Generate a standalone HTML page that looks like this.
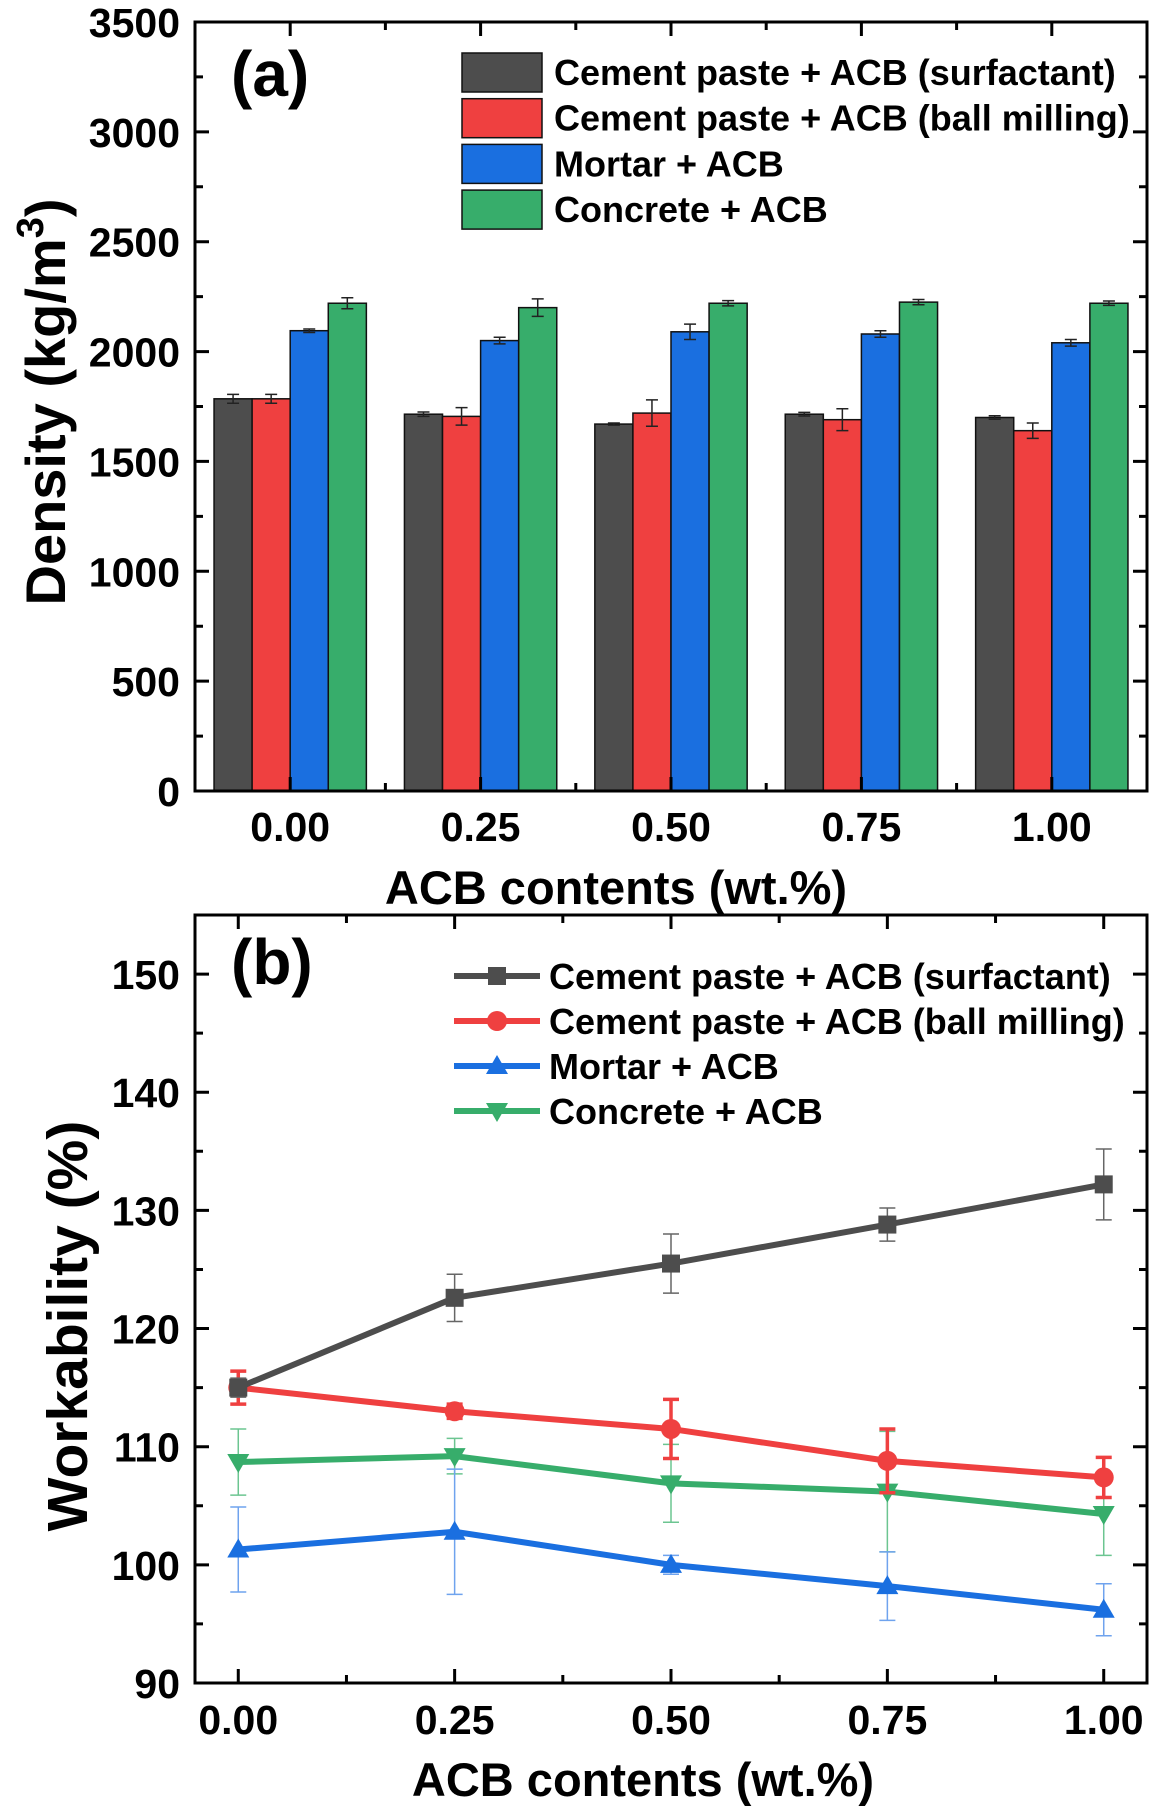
<!DOCTYPE html>
<html><head><meta charset="utf-8">
<style>
html,body{margin:0;padding:0;background:#fff;}
svg{display:block;font-family:"Liberation Sans",sans-serif;font-weight:bold;}
</style></head>
<body>
<svg id="fig" width="1155" height="1813" viewBox="0 0 1155 1813" xmlns="http://www.w3.org/2000/svg"></svg>
<script>
// ---------- Panel (a) data ----------
const catsA = ["0.00","0.25","0.50","0.75","1.00"];
const seriesNames = ["Cement paste + ACB (surfactant)","Cement paste + ACB (ball milling)","Mortar + ACB","Concrete + ACB"];
const densSurf = [1785,1715,1670,1715,1700];
const densBall = [1785,1705,1720,1690,1640];
const densMortar = [2095,2050,2090,2080,2040];
const densConcrete = [2220,2200,2220,2225,2220];
const errSurf = [20,10,5,8,8];
const errBall = [20,40,60,50,35];
const errMortar = [8,15,35,15,15];
const errConcrete = [25,40,12,12,10];
const yTicksA = [0,500,1000,1500,2000,2500,3000,3500];
// ---------- Panel (b) data ----------
const xValsB = [0,0.25,0.5,0.75,1.0];
const xTicksB = ["0.00","0.25","0.50","0.75","1.00"];
const workSurf = [115,122.6,125.5,128.8,132.2];
const workBall = [115,113,111.5,108.8,107.4];
const workMortar = [101.3,102.8,100,98.2,96.2];
const workConcrete = [108.7,109.2,106.9,106.2,104.3];
const wErrSurf = [0.8,2,2.5,1.4,3];
const wErrBall = [1.4,0.6,2.5,2.7,1.7];
const wErrMortar = [3.6,5.3,0.8,2.9,2.2];
const wErrConcrete = [2.8,1.5,3.3,5.1,3.5];
const yTicksB = [90,100,110,120,130,140,150];

const colors = ["#4d4d4d","#ef4040","#1a6fe0","#37ad6b"];
const NS="http://www.w3.org/2000/svg";
const svg=document.getElementById('fig');
function el(tag,attrs,parent){const e=document.createElementNS(NS,tag);for(const k in attrs)e.setAttribute(k,attrs[k]);(parent||svg).appendChild(e);return e;}
function txt(s,attrs,parent){const t=el('text',attrs,parent);t.textContent=s;return t;}
const TICK=41, LEG=36, TITLE=47;

// ===== Panel A =====
const A={l:195,r:1147,t:22,b:791,ymin:0,ymax:3500};
const yA=v=>A.b-(v-A.ymin)/(A.ymax-A.ymin)*(A.b-A.t);
const stepA=(A.r-A.l)/catsA.length;
const xA=i=>A.l+stepA*(i+0.5);
const gA=el('g',{});


const densAll=[densSurf,densBall,densMortar,densConcrete];
const errAll=[errSurf,errBall,errMortar,errConcrete];
const bw=stepA*0.8/4;
for(let s=0;s<4;s++){
  for(let i=0;i<catsA.length;i++){
    const x0=xA(i)-2*bw+s*bw, v=densAll[s][i];
    const r=el('rect',{x:x0,y:yA(v),width:bw,height:yA(0)-yA(v),fill:colors[s],stroke:'#111','stroke-width':1.5},gA);
    
    
    const cx=x0+bw/2,e=errAll[s][i];
    const eb=el('path',{d:`M${cx},${yA(v+e)}V${yA(v-e)}M${cx-6},${yA(v+e)}H${cx+6}M${cx-6},${yA(v-e)}H${cx+6}`,stroke:'#222','stroke-width':1.5,fill:'none'},gA);
    
    
  }
}
el('rect',{x:A.l,y:A.t,width:A.r-A.l,height:A.b-A.t,fill:'none',stroke:'#000','stroke-width':3},gA);
for(let v=0;v<=3500;v+=250){
  const L=(v%500===0)?14:8;const y=yA(v);
  el('path',{d:`M${A.l},${y}h${L}M${A.r},${y}h${-L}`,stroke:'#000','stroke-width':3},gA);
}
yTicksA.forEach(v=>{const t=txt(String(v),{x:180,y:yA(v)+15,'font-size':TICK,'text-anchor':'end'},gA);
});
for(let k=1;k<2*catsA.length;k++){
  const x=A.l+stepA*k/2;
  const L=(k%2===1)?14:8;
  el('path',{d:`M${x},${A.b}v${-L}M${x},${A.t}v${L}`,stroke:'#000','stroke-width':3},gA);
}
catsA.forEach((c,i)=>{const t=txt(c,{x:xA(i),y:841,'font-size':TICK,'text-anchor':'middle'},gA);
});
let t=txt('ACB contents (wt.%)',{x:616,y:904,'font-size':TITLE,'text-anchor':'middle'},gA);

t=el('text',{transform:'translate(65,402) rotate(-90)','font-size':56,'text-anchor':'middle'},gA);
t.innerHTML='Density (kg/m<tspan dy="-22" font-size="38">3</tspan><tspan dy="22">)</tspan>';

t=txt('(a)',{x:231,y:96,'font-size':64,'text-anchor':'start'},gA);

seriesNames.forEach((n,s)=>{
  const yc=72+s*45.7;
  const g=el('g',{},gA);
  
  
  el('rect',{x:462,y:yc-19,width:80,height:39,fill:colors[s],stroke:'#111','stroke-width':1.5},g);
  txt(n,{x:554,y:yc+13,'font-size':LEG},g);
});

// ===== Panel B =====
const B={l:195,r:1147,t:915,b:1683,xmin:-0.05,xmax:1.05,ymin:90,ymax:155};
const xB=v=>B.l+(v-B.xmin)/(B.xmax-B.xmin)*(B.r-B.l);
const yB=v=>B.b-(v-B.ymin)/(B.ymax-B.ymin)*(B.b-B.t);
const gB=el('g',{});


const workAll=[workSurf,workBall,workMortar,workConcrete];
const wErrAll=[wErrSurf,wErrBall,wErrMortar,wErrConcrete];
const errW=[1.5,3.5,1.5,1.5];
const errCol=["#666","#ef4040","#6fa3ee","#6cc591"];
const order=[3,2,1,0];
function marker(s,x,y,g){
  if(s===0)return el('rect',{x:x-9,y:y-9,width:18,height:18,fill:colors[0]},g);
  if(s===1)return el('circle',{cx:x,cy:y,r:10,fill:colors[1]},g);
  if(s===2)return el('path',{d:`M${x},${y-11}L${x+11},${y+8}L${x-11},${y+8}Z`,fill:colors[2]},g);
  return el('path',{d:`M${x},${y+11}L${x+11},${y-8}L${x-11},${y-8}Z`,fill:colors[3]},g);
}
order.forEach(s=>{
  const g=el('g',{},gB);
  
  
  xValsB.forEach((xv,i)=>{const v=workAll[s][i],e=wErrAll[s][i],x=xB(xv);
    const eb=el('path',{d:`M${x},${yB(v+e)}V${yB(v-e)}M${x-8},${yB(v+e)}H${x+8}M${x-8},${yB(v-e)}H${x+8}`,stroke:errCol[s],'stroke-width':errW[s],fill:'none'},g);
    
    
  });
  const pts=xValsB.map((xv,i)=>xB(xv)+','+yB(workAll[s][i])).join(' ');
  const pl=el('polyline',{points:pts,fill:'none',stroke:colors[s],'stroke-width':6},g);
  
  
  xValsB.forEach((xv,i)=>{const m=marker(s,xB(xv),yB(workAll[s][i]),g);
    
    });
});
el('rect',{x:B.l,y:B.t,width:B.r-B.l,height:B.b-B.t,fill:'none',stroke:'#000','stroke-width':3},gB);
for(let v=90;v<=155;v+=5){
  const L=(v%10===0)?14:8;const y=yB(v);
  el('path',{d:`M${B.l},${y}h${L}M${B.r},${y}h${-L}`,stroke:'#000','stroke-width':3},gB);
}
for(let k=0;k<=8;k++){
  const x=xB(k*0.125);const L=(k%2===0)?14:8;
  el('path',{d:`M${x},${B.b}v${-L}M${x},${B.t}v${L}`,stroke:'#000','stroke-width':3},gB);
}
yTicksB.forEach(v=>{const t=txt(String(v),{x:180,y:yB(v)+15,'font-size':TICK,'text-anchor':'end'},gB);
});
xTicksB.forEach((c,i)=>{const t=txt(c,{x:xB(xValsB[i]),y:1734,'font-size':TICK,'text-anchor':'middle'},gB);
});
t=txt('ACB contents (wt.%)',{x:643,y:1796,'font-size':TITLE,'text-anchor':'middle'},gB);

t=txt('Workability (%)',{transform:'translate(87,1326) rotate(-90)','font-size':57,'text-anchor':'middle'},gB);

t=txt('(b)',{x:231,y:984,'font-size':64},gB);

seriesNames.forEach((n,s)=>{
  const yc=976+s*45;
  const g=el('g',{},gB);
  
  
  el('path',{d:`M454,${yc}H540`,stroke:colors[s],'stroke-width':6},g);
  marker(s,497,yc,g);
  txt(n,{x:549,y:yc+13,'font-size':LEG},g);
});
</script>
</body></html>
